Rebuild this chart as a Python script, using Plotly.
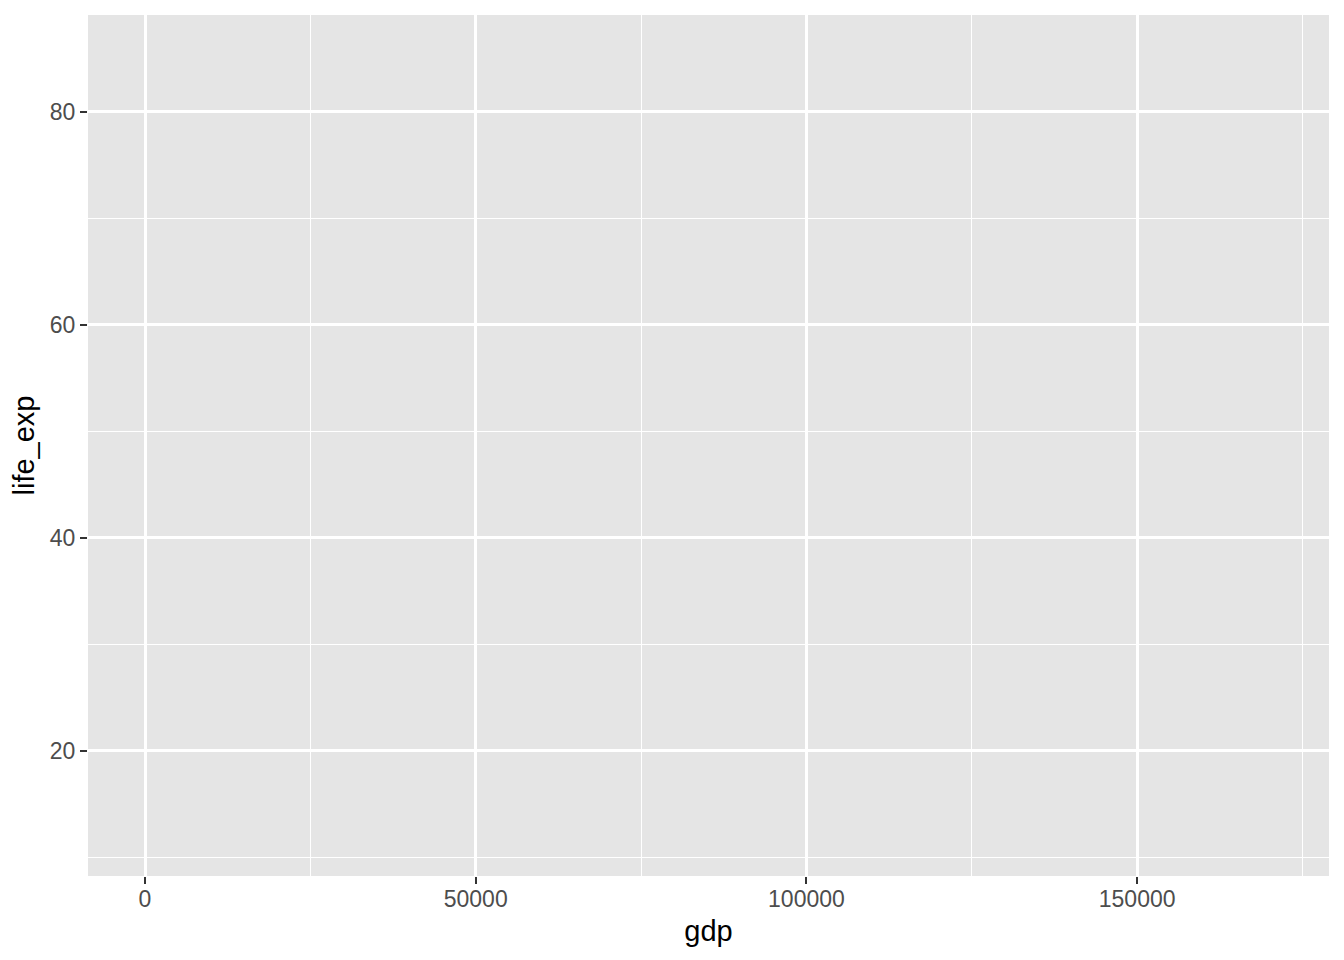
import plotly.graph_objects as go

# Data (the reference chart shows an empty panel: no points drawn)
gdp = []
life_exp = []

x_tick_vals = [0, 50000, 100000, 150000]
x_tick_text = ["0", "50000", "100000", "150000"]
x_minor_vals = [25000, 75000, 125000, 175000]
y_tick_vals = [20, 40, 60, 80]
y_tick_text = ["20", "40", "60", "80"]
y_minor_vals = [10, 30, 50, 70]

fig = go.Figure()
fig.add_trace(go.Scatter(x=gdp, y=life_exp, mode="markers",
                         marker=dict(color="black", size=6), showlegend=False))

axis_common = dict(
    showline=False, zeroline=False,
    showgrid=True, gridcolor="white", gridwidth=2.6,
    ticks="outside", ticklen=7, tickwidth=2.4, tickcolor="#333333",
    tickfont=dict(family="Liberation Sans, Arial, sans-serif", size=23, color="#4D4D4D"),
    title_font=dict(family="Liberation Sans, Arial, sans-serif", size=29, color="black"),
)

# page body has an 8px margin, so the figure is sized/offset to compensate
fig.update_layout(
    width=1336, height=952,
    margin=dict(l=80, r=15, t=7, b=84),
    paper_bgcolor="white", plot_bgcolor="#E5E5E5",
    xaxis=dict(
        range=[-8620, 179010],
        tickvals=x_tick_vals, ticktext=x_tick_text,
        ticklabelstandoff=-5,
        title=dict(text="gdp", standoff=10),
        minor=dict(tickvals=x_minor_vals, showgrid=True,
                   gridcolor="white", gridwidth=1.3, ticks=""),
        **axis_common,
    ),
    yaxis=dict(
        range=[8.26, 89.1],
        tickvals=y_tick_vals, ticktext=y_tick_text,
        title=dict(text="life_exp", standoff=10),
        minor=dict(tickvals=y_minor_vals, showgrid=True,
                   gridcolor="white", gridwidth=1.3, ticks=""),
        **axis_common,
    ),
)

fig.write_html("out.html")
